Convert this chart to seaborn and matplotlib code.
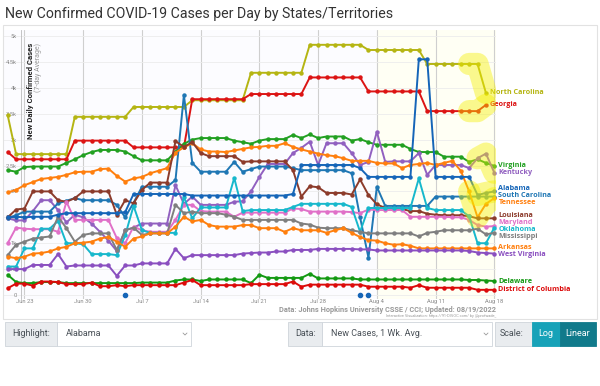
import numpy as np
import pandas as pd
import seaborn as sns
import matplotlib.pyplot as plt
import matplotlib.dates as mdates
import matplotlib.transforms as mtransforms
from matplotlib.patches import Rectangle
from matplotlib.lines import Line2D
from matplotlib.ticker import FuncFormatter, MultipleLocator

sns.set_theme(style="white")
plt.rcParams["font.family"] = ["Roboto", "DejaVu Sans"]

dates = pd.date_range("2022-06-21", "2022-08-18", freq="D")

# new daily cases, 7-day average, in thousands
north_carolina = [3.47] + [2.72] * 7 + [3.44] * 7 + [3.63] * 7 + [3.76] * 7 + [4.29] * 7 + \
    [4.83] * 7 + [4.73] * 7 + [4.46] * 7 + [3.90, np.nan]
georgia = [2.76] + [2.62] * 7 + [2.98] * 7 + [2.85] * 7 + [3.78] * 7 + [3.88] * 7 + \
    [4.20] * 7 + [3.93] * 7 + [3.55] * 7 + [3.67, np.nan]
virginia = [2.41, 2.38, 2.47, 2.48, 2.48, 2.48, 2.48, 2.55, 2.62, 2.70,
            2.76, 2.80, 2.80, 2.80, 2.77, 2.68, 2.60, 2.60, 2.60, 2.60,
            2.77, 2.92, 3.00, 3.03, 3.03, 3.03, 3.03, 2.98, 2.95, 2.92,
            2.98, 3.01, 3.01, 3.01, 3.09, 3.03, 3.10, 3.03, 3.06, 3.06,
            3.06, 2.98, 3.01, 2.95, 2.90, 2.90, 2.90, 2.90, 2.82, 2.76,
            2.76, 2.76, 2.67, 2.67, 2.67, 2.57, 2.62, 2.55, 2.49]
kentucky = [1.48, 1.44, 1.44, 1.62, 1.83, 1.83, 1.64, 1.40, 1.55, 1.50,
            1.38, 1.22, 1.05, 0.85, 1.25, 1.30, 1.38, 1.38, 1.38, 1.38,
            2.12, 1.76, 1.90, 1.74, 1.74, 1.74, 1.74, 1.80, 1.81, 2.00,
            2.28, 2.53, 2.53, 2.53, 2.74, 2.84, 2.96, 2.51, 2.93, 2.93,
            2.93, 2.74, 2.51, 2.57, 3.15, 2.57, 2.58, 2.58, 2.58, 2.74,
            2.32, 2.51, 2.51, 2.51, 2.51, 2.45, 2.64, 2.73, 2.36]
alabama = [1.50, 1.51, 1.50, 1.51, 1.51, 1.51, 1.55, 1.58, 1.58, 1.58,
           1.58, 1.58, 1.58, 1.58, 1.60, 1.95, 1.95, 1.95, 1.95, 1.95,
           1.95, 1.95, 1.92, 1.92, 1.92, 1.92, 1.92, 1.92, 1.92, 1.92,
           1.92, 1.92, 1.92, 1.92, 1.95, 2.51, 2.51, 2.51, 2.51, 2.51,
           2.51, 2.51, 2.45, 2.28, 2.28, 2.28, 2.28, 2.28, 2.28, 4.55,
           4.55, 2.28, 2.28, 2.28, 2.28, 2.28, 1.93, 1.97, 2.00]
south_carolina = [1.48, 1.54, 1.61, 1.61, 1.61, 1.61, 1.77, 1.82, 1.87, 1.83,
                  1.83, 1.83, 1.83, 1.74, 1.50, 1.78, 2.09, 2.09, 2.09, 2.09,
                  2.22, 3.86, 2.55, 2.38, 2.38, 2.38, 2.38, 2.57, 2.38, 2.43,
                  2.48, 2.48, 2.48, 2.48, 2.45, 2.41, 2.41, 2.41, 2.41, 2.41,
                  2.41, 2.35, 1.50, 0.72, 2.09, 1.72, 1.72, 1.72, 1.72, 1.72,
                  1.72, 1.90, 1.90, 1.90, 1.90, 1.90, 1.90, 1.90, 1.90]
tennessee = [1.98, 2.03, 2.12, 2.18, 2.24, 2.26, 2.28, 2.32, 2.37, 2.38,
             2.38, 2.43, 2.44, 2.30, 2.19, 2.25, 2.28, 2.35, 2.40, 2.45,
             2.75, 2.85, 2.93, 2.81, 2.77, 2.77, 2.76, 2.79, 2.82, 2.85,
             2.86, 2.88, 2.88, 2.93, 2.86, 2.81, 2.77, 2.73, 2.70, 2.68,
             2.64, 2.59, 2.59, 2.59, 2.55, 2.54, 2.54, 2.45, 2.51, 2.53,
             2.55, 2.51, 2.55, 2.59, 2.40, 2.00, 1.50, 1.76, 1.87]
louisiana = [1.50, 1.65, 1.67, 2.00, 2.00, 2.00, 1.83, 1.80, 1.87, 2.00,
             2.00, 2.00, 2.00, 1.55, 1.83, 1.77, 2.03, 2.17, 2.17, 2.17,
             2.97, 2.86, 2.95, 2.74, 2.68, 2.68, 2.68, 2.68, 2.57, 2.58,
             2.58, 2.58, 2.58, 2.58, 2.41, 1.90, 2.10, 2.08, 1.97, 1.97,
             1.97, 1.94, 2.23, 1.93, 1.75, 1.68, 1.66, 1.66, 1.62, 1.62,
             1.57, 1.55, 1.54, 1.54, 1.54, 1.52, 1.48, 1.48, 1.48]
maryland = [1.00, 1.30, 1.28, 1.27, 1.27, 1.27, 1.22, 1.80, 1.45, 1.45,
            1.45, 1.45, 1.45, 1.10, 1.00, 1.32, 1.25, 1.22, 1.22, 1.22,
            1.45, 1.74, 1.74, 1.62, 1.61, 1.61, 1.61, 1.51, 1.59, 1.59,
            1.59, 1.59, 1.59, 1.59, 1.67, 1.66, 1.61, 1.61, 1.61, 1.61,
            1.61, 1.60, 1.58, 1.65, 1.64, 1.64, 1.64, 1.64, 1.51, 1.51,
            1.51, 1.51, 1.51, 1.50, 1.50, 1.45, 1.35, 1.32, 1.33]
oklahoma = [0.55, 0.55, 0.90, 0.90, 1.28, 1.28, 1.43, 1.00, 1.00, 0.98,
            0.79, 0.79, 0.79, 0.77, 1.15, 1.72, 1.25, 1.20, 1.20, 1.20,
            1.20, 1.89, 1.48, 1.69, 1.69, 1.69, 1.69, 2.26, 1.62, 1.64,
            1.64, 1.64, 1.64, 1.64, 1.70, 1.76, 1.76, 1.76, 1.76, 1.76,
            1.76, 1.70, 1.22, 1.68, 1.68, 1.68, 1.68, 1.68, 1.68, 2.25,
            1.68, 1.64, 1.64, 1.64, 1.64, 1.52, 1.00, 1.00, 1.30]
mississippi = [0.77, 0.97, 1.03, 1.09, 1.11, 1.13, 1.51, 1.29, 1.03, 1.16,
               1.19, 1.19, 1.19, 0.87, 1.25, 1.30, 1.16, 1.19, 1.19, 1.19,
               1.74, 1.58, 1.61, 1.58, 1.58, 1.58, 1.55, 1.51, 1.45, 1.45,
               1.45, 1.45, 1.45, 1.45, 1.45, 1.38, 1.36, 1.30, 1.29, 1.29,
               1.29, 1.25, 1.22, 1.19, 1.19, 1.19, 1.19, 1.19, 1.19, 1.13,
               1.20, 1.22, 1.25, 1.25, 1.25, 1.25, 1.28, 1.17, 1.20]
arkansas = [0.74, 0.71, 0.74, 0.80, 0.81, 0.84, 0.90, 0.93, 1.00, 1.01,
            1.03, 1.09, 1.12, 1.03, 0.93, 1.09, 1.13, 1.19, 1.19, 1.19,
            1.32, 1.51, 1.42, 1.45, 1.35, 1.32, 1.32, 1.32, 1.35, 1.35,
            1.29, 1.29, 1.29, 1.22, 1.29, 1.25, 1.25, 1.25, 1.20, 1.25,
            1.29, 1.20, 1.12, 1.06, 1.05, 1.00, 0.97, 0.98, 0.95, 0.90,
            0.90, 0.90, 0.90, 0.90, 0.90, 0.90, 0.90, 0.90, 0.90]
west_virginia = [0.50, 0.50, 0.50, 0.58, 0.58, 0.58, 0.79, 0.55, 0.57, 0.57,
                 0.57, 0.57, 0.57, 0.37, 0.57, 0.57, 0.61, 0.61, 0.61, 0.61,
                 0.89, 0.71, 0.77, 0.77, 0.77, 0.77, 0.77, 0.77, 0.80, 0.81,
                 0.82, 0.82, 0.84, 0.84, 0.87, 0.87, 0.87, 0.89, 0.89, 0.89,
                 0.89, 0.89, 0.88, 0.88, 0.86, 0.86, 0.86, 0.86, 0.86, 0.86,
                 0.86, 0.86, 0.86, 0.86, 0.86, 0.85, 0.82, 0.81, 0.80]
delaware = [0.39, 0.25, 0.23, 0.23, 0.25, 0.25, 0.25, 0.23, 0.23, 0.23,
            0.23, 0.23, 0.23, 0.23, 0.23, 0.23, 0.24, 0.24, 0.24, 0.24,
            0.28, 0.30, 0.30, 0.27, 0.30, 0.30, 0.30, 0.30, 0.30, 0.23,
            0.39, 0.33, 0.33, 0.33, 0.33, 0.33, 0.41, 0.32, 0.32, 0.32,
            0.32, 0.32, 0.30, 0.30, 0.30, 0.30, 0.30, 0.30, 0.30, 0.30,
            0.30, 0.30, 0.30, 0.30, 0.30, 0.29, 0.29, 0.28, 0.27]
district_of_columbia = [0.13, 0.22, 0.22, 0.18, 0.26, 0.26, 0.25, 0.21, 0.21, 0.21,
                        0.24, 0.17, 0.17, 0.19, 0.17, 0.19, 0.19, 0.19, 0.19, 0.19,
                        0.19, 0.24, 0.29, 0.19, 0.19, 0.19, 0.19, 0.19, 0.19, 0.21,
                        0.21, 0.21, 0.21, 0.21, 0.26, 0.16, 0.20, 0.20, 0.20, 0.20,
                        0.20, 0.20, 0.20, 0.16, 0.16, 0.16, 0.16, 0.16, 0.14, 0.19,
                        0.14, 0.14, 0.14, 0.14, 0.14, 0.14, 0.10, 0.10, 0.10]

alabama_flag_dates = ["2022-07-05", "2022-08-02", "2022-08-03"]

series = {
    "North Carolina": (north_carolina, "#b5b513"),
    "Georgia": (georgia, "#dc1414"),
    "Virginia": (virginia, "#22a022"),
    "Kentucky": (kentucky, "#9160c0"),
    "South Carolina": (south_carolina, "#1f77b4"),
    "Tennessee": (tennessee, "#ff7f0e"),
    "Louisiana": (louisiana, "#8c3b2b"),
    "Maryland": (maryland, "#e070c8"),
    "Oklahoma": (oklahoma, "#17b8cc"),
    "Mississippi": (mississippi, "#7f7f7f"),
    "Arkansas": (arkansas, "#ff7f0e"),
    "West Virginia": (west_virginia, "#8a4fc0"),
    "Delaware": (delaware, "#139913"),
    "District of Columbia": (district_of_columbia, "#dc0a0a"),
    "Alabama": (alabama, "#1565b8"),
}
# yellow marker over the latest points of some states (number of points)
recent_flags = {"North Carolina": 3, "Georgia": 3, "Kentucky": 3, "Tennessee": 4, "Alabama": 3}

frames = []
for name, (vals, _) in series.items():
    frames.append(pd.DataFrame({"date": dates, "cases": vals, "state": name}))
df = pd.concat(frames).dropna()
palette = {name: c for name, (_, c) in series.items()}

W, H = 600, 386
fig = plt.figure(figsize=(W / 100, H / 100), dpi=100)

def fx(px):
    return px / W

def fy(py):
    return 1 - py / H

ax = fig.add_axes([fx(3), fy(299), fx(496) - fx(3), fy(30) - fy(299)])
ax.set_facecolor("#fcfcff")

start = dates[0]
ax.set_xlim(start - pd.Timedelta(days=0.56), start + pd.Timedelta(days=58.2))
ax.set_ylim(-0.077, 5.116)
ax.axvspan(pd.Timestamp("2022-08-04"), start + pd.Timedelta(days=58.2), color="#fffff4", zorder=0)

sns.lineplot(data=df, x="date", y="cases", hue="state", hue_order=list(series.keys()),
             palette=palette, marker="o", markersize=3.2, markeredgewidth=0,
             linewidth=1.4, legend=False, estimator=None, sort=False, ax=ax, zorder=3)

for name, n in recent_flags.items():
    sub = df[df.state == name].tail(n)
    ax.plot(sub.date, sub.cases, color="#f5f000", alpha=0.42, lw=16,
            solid_capstyle="round", solid_joinstyle="round", zorder=6)

ax.scatter(pd.to_datetime(alabama_flag_dates), [0] * len(alabama_flag_dates),
           s=9, color=series["Alabama"][1], zorder=7, clip_on=False)

# end labels, spread apart symmetrically so they do not collide
ends = []
for name, (vals, c) in series.items():
    sub = df[df.state == name]
    ends.append([sub.cases.iloc[-1], sub.date.iloc[-1], name, c])
ends.sort(key=lambda t: -t[0])
pos = [e[0] for e in ends]
gap = 0.132
for _ in range(200):
    moved = False
    for i in range(len(pos) - 1):
        overlap = gap - (pos[i] - pos[i + 1])
        if overlap > 1e-4:
            pos[i] += overlap / 2
            pos[i + 1] -= overlap / 2
            moved = True
    if not moved:
        break
for p, (v, d, name, c) in zip(pos, ends):
    ax.annotate(name, xy=(d, p), xytext=(3, 0), textcoords="offset points",
                va="center", ha="left", color=c, fontsize=5.2, fontweight="bold",
                family=["Open Sans", "DejaVu Sans"], annotation_clip=False)

# axes styling
ax.set_xlabel("")
ax.set_ylabel("")
ax.yaxis.set_major_locator(MultipleLocator(0.5))

def kfmt(v, _):
    if abs(v) < 1e-9:
        return "0"
    if v < 1:
        return f"{int(round(v * 1000))}"
    return f"{v:g}k"

ax.yaxis.set_major_formatter(FuncFormatter(kfmt))
ax.set_xticks(pd.date_range("2022-06-23", "2022-08-18", freq="7D"))
ax.xaxis.set_major_formatter(mdates.DateFormatter("%b %-d"))
ax.tick_params(axis="both", labelsize=4.2, colors="#888888", length=2, width=0.5, pad=1)
for lab in ax.get_xticklabels():
    lab.set_ha("right")
    lab.set_transform(lab.get_transform() + mtransforms.ScaledTranslation(-2 / 72, 0, fig.dpi_scale_trans))

ax.grid(axis="y", color="#ececec", lw=0.6, zorder=0)
ax.grid(axis="x", color="#cfcfcf", lw=0.8, zorder=0)
ax.set_axisbelow(True)
for s in ["top", "right"]:
    ax.spines[s].set_visible(False)
ax.spines["left"].set_position(("data", mdates.date2num(start + pd.Timedelta(days=1.6))))
ax.spines["left"].set_color("#bbbbbb")
ax.spines["left"].set_linewidth(0.6)
ax.spines["bottom"].set_position(("data", 0))
ax.spines["bottom"].set_color("none")

fig.text(fx(31), fy(43), "New Daily Confirmed Cases", rotation=90, ha="center", va="top",
         fontsize=5.6, fontweight="bold", color="#222222")
fig.text(fx(38.5), fy(43), "(7-day Average)", rotation=90, ha="center", va="top",
         fontsize=5, color="#999999")

# title and frame
fig.text(fx(5), fy(18), "New Confirmed COVID-19 Cases per Day by States/Territories",
         fontsize=10.2, color="#333333", va="baseline", ha="left")
fig.add_artist(Rectangle((fx(3), fy(319)), fx(597) - fx(3), fy(25) - fy(319),
                         transform=fig.transFigure, fill=False, ec="#e2e2e2", lw=0.8))
fig.text(fx(496), fy(310), "Data: Johns Hopkins University CSSE / CCI; Updated: 08/19/2022",
         ha="right", va="center", fontsize=5.3, color="#999999", fontweight="bold")
fig.text(fx(496), fy(316.5), "Interactive Visualization: https://91-DIVOC.com/ by @profwade_",
         ha="right", va="center", fontsize=2.8, color="#999999")

# controls row
def box(x0, x1, fc, ec="#ced4da", y0=322, y1=346):
    fig.add_artist(Rectangle((fx(x0), fy(y1)), fx(x1) - fx(x0), fy(y0) - fy(y1),
                             transform=fig.transFigure, fc=fc, ec=ec, lw=0.6))

def chevron(xc, yc):
    fig.add_artist(Line2D([fx(xc - 2), fx(xc), fx(xc + 2)], [fy(yc - 1), fy(yc + 1), fy(yc - 1)],
                          transform=fig.transFigure, color="#999999", lw=0.6))

ctrl = dict(fontsize=6.5, color="#495057", va="center")
box(5, 57, "#e9ecef")
fig.text(fx(12), fy(334), "Highlight:", **ctrl)
box(57, 191, "white")
fig.text(fx(66), fy(334), "Alabama", **ctrl)
chevron(185, 334)
box(288, 322, "#e9ecef")
fig.text(fx(295), fy(334), "Data:", **ctrl)
box(322, 492, "white")
fig.text(fx(331), fy(334), "New Cases, 1 Wk. Avg.", **ctrl)
chevron(486, 334)
box(495, 532, "#e9ecef")
fig.text(fx(500), fy(334), "Scale:", **ctrl)
box(532, 560, "#17a2b8", ec="#17a2b8")
fig.text(fx(546), fy(334), "Log", fontsize=6.5, color="white", va="center", ha="center")
box(560, 596, "#117a8b", ec="#117a8b")
fig.text(fx(578), fy(334), "Linear", fontsize=6.5, color="white", va="center", ha="center")

fig.savefig("out.png", dpi=100)
